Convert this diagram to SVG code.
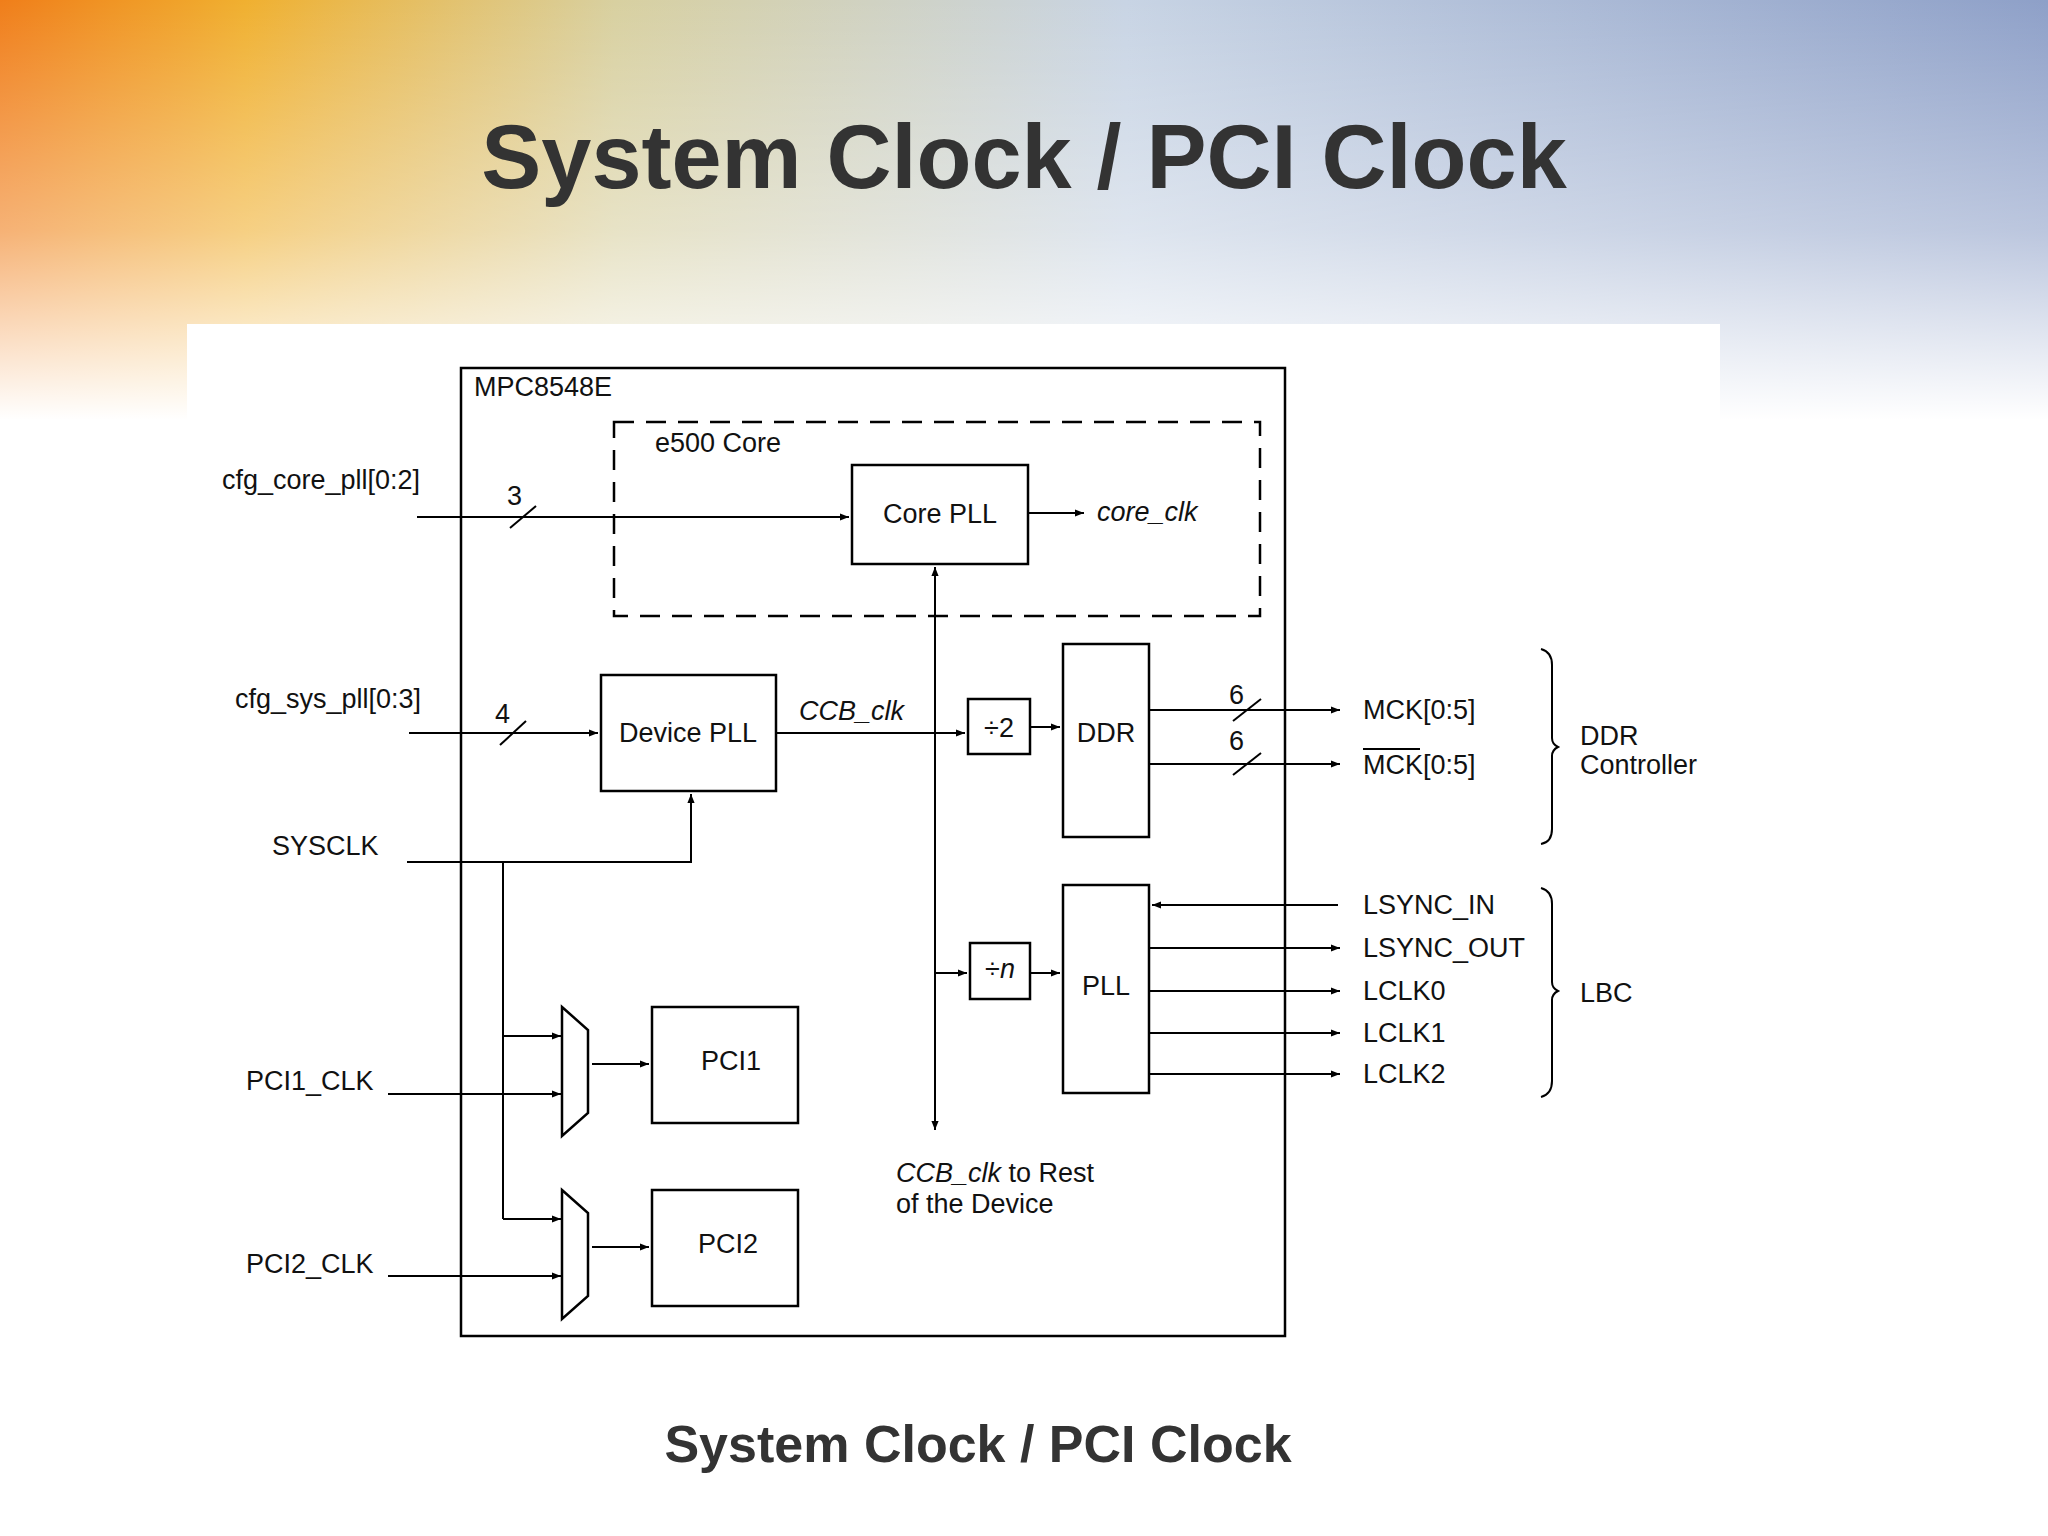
<svg xmlns="http://www.w3.org/2000/svg" width="2048" height="1536" viewBox="0 0 2048 1536">
<defs>
<linearGradient id="h" x1="0" y1="0" x2="1" y2="0">
<stop offset="0" stop-color="#f07e1a"/><stop offset="0.12" stop-color="#f0b030"/><stop offset="0.3" stop-color="#d8d0a0"/><stop offset="0.55" stop-color="#c8d4e4"/><stop offset="1" stop-color="#8ea0c8"/>
</linearGradient>
<linearGradient id="v" x1="0" y1="0" x2="0" y2="1">
<stop offset="0" stop-color="#fff" stop-opacity="0"/><stop offset="0.55" stop-color="#fff" stop-opacity="0.4"/><stop offset="1" stop-color="#fff" stop-opacity="1"/>
</linearGradient>
<marker id="a" viewBox="0 0 10 10" refX="10" refY="5" markerWidth="9" markerHeight="9" markerUnits="userSpaceOnUse" orient="auto"><path d="M0,1 L10,5 L0,9 z" fill="#000"/></marker>
<style>
.b{fill:none;stroke:#000;stroke-width:2.5}
.l{fill:none;stroke:#000;stroke-width:2}
.t{font-family:"Liberation Sans",Arial,sans-serif;font-size:27px;fill:#111}
.i{font-style:italic}
</style>
</defs>
<rect width="2048" height="1536" fill="#fff"/>
<rect width="2048" height="420" fill="url(#h)"/>
<rect width="2048" height="420" fill="url(#v)"/>
<rect x="187" y="324" width="1533" height="1034" fill="#fff"/>
<text x="1024" y="188" text-anchor="middle" font-family="Liberation Sans,Arial,sans-serif" font-weight="bold" font-size="90" fill="#333">System Clock / PCI Clock</text>
<text x="978" y="1462" text-anchor="middle" font-family="Liberation Sans,Arial,sans-serif" font-weight="bold" font-size="52" fill="#333">System Clock / PCI Clock</text>

<g id="mpc"><rect class="b" x="461" y="368" width="824" height="968"/><text class="t" x="474" y="396">MPC8548E</text></g>
<g id="e500"><rect x="614" y="422" width="646" height="194" fill="none" stroke="#000" stroke-width="2.5" stroke-dasharray="20,12"/><text class="t" x="655" y="452">e500 Core</text></g>
<g id="corepll"><rect class="b" x="852" y="465" width="176" height="99"/><text class="t" x="940" y="523" text-anchor="middle">Core PLL</text></g>
<g id="devpll"><rect class="b" x="601" y="675" width="175" height="116"/><text class="t" x="688" y="742" text-anchor="middle">Device PLL</text></g>
<g id="div2"><rect class="b" x="968" y="699" width="62" height="55"/><text class="t" x="999" y="737" text-anchor="middle">÷2</text></g>
<g id="ddr"><rect class="b" x="1063" y="644" width="86" height="193"/><text class="t" x="1106" y="742" text-anchor="middle">DDR</text></g>
<g id="divn"><rect class="b" x="970" y="943" width="60" height="56"/><text class="t" x="1000" y="978" text-anchor="middle">÷<tspan class="i">n</tspan></text></g>
<g id="pll"><rect class="b" x="1063" y="885" width="86" height="208"/><text class="t" x="1106" y="995" text-anchor="middle">PLL</text></g>
<g id="pci1"><rect class="b" x="652" y="1007" width="146" height="116"/><text class="t" x="731" y="1070" text-anchor="middle">PCI1</text></g>
<g id="pci2"><rect class="b" x="652" y="1190" width="146" height="116"/><text class="t" x="728" y="1253" text-anchor="middle">PCI2</text></g>
<g id="mux1"><path class="b" d="M562,1007 L588,1030 L588,1113 L562,1136 Z"/></g>
<g id="mux2"><path class="b" d="M562,1190 L588,1213 L588,1296 L562,1319 Z"/></g>

<g id="connectors">
<path class="l" d="M417,517 H849" marker-end="url(#a)"/>
<path class="l" d="M510,528 L536,506"/>
<path class="l" d="M1028,513 H1084" marker-end="url(#a)"/>
<path class="l" d="M409,733 H598" marker-end="url(#a)"/>
<path class="l" d="M500,745 L526,721"/>
<path class="l" d="M776,733 H935"/>
<path class="l" d="M935,733 H965" marker-end="url(#a)"/>
<path class="l" d="M935,1130 V567" marker-end="url(#a)"/>
<path class="l" d="M935,600 V1130" marker-end="url(#a)"/>
<path class="l" d="M1030,727 H1060" marker-end="url(#a)"/>
<path class="l" d="M935,973 H967" marker-end="url(#a)"/>
<path class="l" d="M1030,973 H1060" marker-end="url(#a)"/>
<path class="l" d="M407,862 H691 V794" marker-end="url(#a)"/>
<path class="l" d="M503,862 V1219"/>
<path class="l" d="M503,1036 H561" marker-end="url(#a)"/>
<path class="l" d="M503,1219 H561" marker-end="url(#a)"/>
<path class="l" d="M388,1094 H561" marker-end="url(#a)"/>
<path class="l" d="M388,1276 H561" marker-end="url(#a)"/>
<path class="l" d="M592,1064 H649" marker-end="url(#a)"/>
<path class="l" d="M592,1247 H649" marker-end="url(#a)"/>
<path class="l" d="M1149,710 H1340" marker-end="url(#a)"/>
<path class="l" d="M1149,764 H1340" marker-end="url(#a)"/>
<path class="l" d="M1233,721 L1261,699"/>
<path class="l" d="M1233,775 L1261,753"/>
<path class="l" d="M1338,905 H1152" marker-end="url(#a)"/>
<path class="l" d="M1149,948 H1340" marker-end="url(#a)"/>
<path class="l" d="M1149,991 H1340" marker-end="url(#a)"/>
<path class="l" d="M1149,1033 H1340" marker-end="url(#a)"/>
<path class="l" d="M1149,1074 H1340" marker-end="url(#a)"/>
<path class="l" d="M1541,649 Q1552,652 1552,665 V738 Q1552,744 1558,747 Q1552,750 1552,756 V829 Q1552,842 1541,844"/>
<path class="l" d="M1541,888 Q1552,891 1552,904 V982 Q1552,988 1558,991 Q1552,994 1552,1000 V1081 Q1552,1094 1541,1097"/>
</g>

<g id="labels">
<text class="t" x="222" y="489">cfg_core_pll[0:2]</text>
<text class="t" x="235" y="708">cfg_sys_pll[0:3]</text>
<text class="t" x="272" y="855">SYSCLK</text>
<text class="t" x="246" y="1090">PCI1_CLK</text>
<text class="t" x="246" y="1273">PCI2_CLK</text>
<text class="t" x="507" y="505">3</text>
<text class="t" x="495" y="723">4</text>
<text class="t i" x="1097" y="521">core_clk</text>
<text class="t i" x="799" y="720">CCB_clk</text>
<text class="t" x="896" y="1182"><tspan class="i">CCB_clk</tspan>  to Rest</text>
<text class="t" x="896" y="1213">of the Device</text>
<text class="t" x="1229" y="704">6</text>
<text class="t" x="1229" y="750">6</text>
<text class="t" x="1363" y="719">MCK[0:5]</text>
<text class="t" x="1363" y="774">MCK[0:5]</text>
<path class="l" d="M1363,749 H1420"/>
<text class="t" x="1580" y="745">DDR</text>
<text class="t" x="1580" y="774">Controller</text>
<text class="t" x="1363" y="914">LSYNC_IN</text>
<text class="t" x="1363" y="957">LSYNC_OUT</text>
<text class="t" x="1363" y="1000">LCLK0</text>
<text class="t" x="1363" y="1042">LCLK1</text>
<text class="t" x="1363" y="1083">LCLK2</text>
<text class="t" x="1580" y="1002">LBC</text>
</g>
</svg>
